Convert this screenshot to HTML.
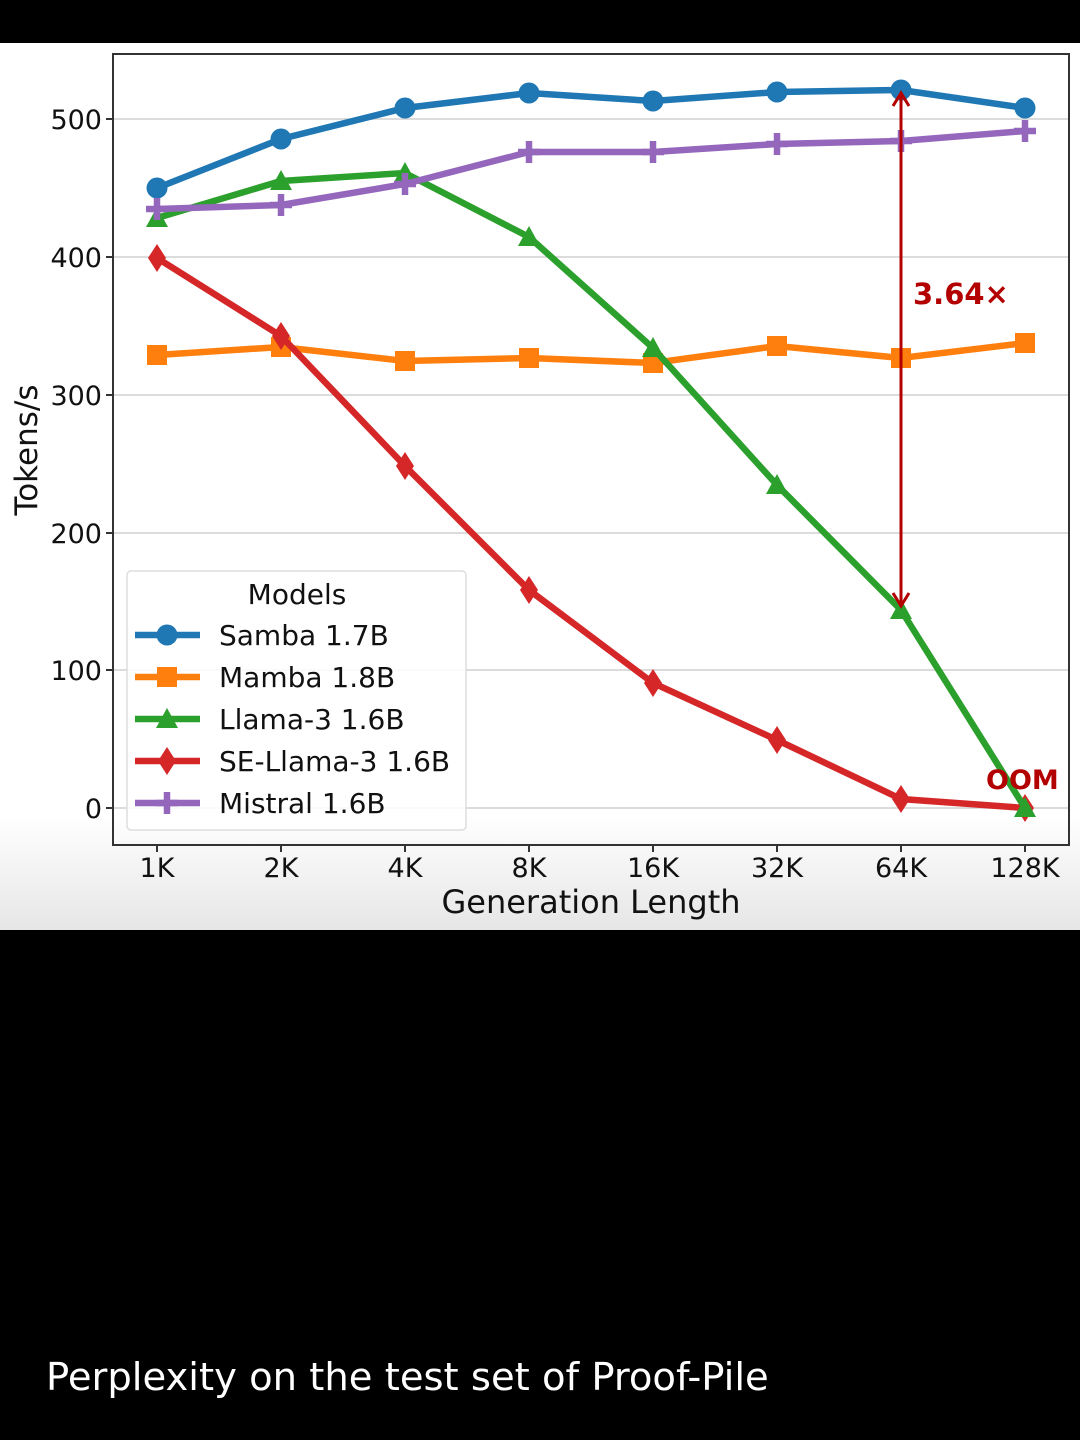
<!DOCTYPE html>
<html><head><style>
html,body{margin:0;padding:0;background:#000;width:1080px;height:1440px;overflow:hidden}
svg{display:block}
text{font-family:"DejaVu Sans","Liberation Sans",sans-serif}
</style></head><body>
<svg width="1080" height="1440" viewBox="0 0 1080 1440" xmlns="http://www.w3.org/2000/svg">
<defs>
<linearGradient id="bg" x1="0" y1="0" x2="0" y2="1">
<stop offset="0" stop-color="#fff"/><stop offset="0.87" stop-color="#fff"/><stop offset="1" stop-color="#e6e6e6"/>
</linearGradient>
<g id="tri"><polygon points="0,-11 11,9 -11,9"/></g>
</defs>
<rect x="0" y="0" width="1080" height="1440" fill="#000"/>
<rect x="0" y="43" width="1080" height="887" fill="url(#bg)"/>
<g stroke="#d0d0d0" stroke-width="1.5">
<line x1="113" y1="119" x2="1069" y2="119"/><line x1="113" y1="257" x2="1069" y2="257"/>
<line x1="113" y1="395" x2="1069" y2="395"/><line x1="113" y1="533" x2="1069" y2="533"/>
<line x1="113" y1="670" x2="1069" y2="670"/><line x1="113" y1="808" x2="1069" y2="808"/>
</g>
<rect x="113" y="54" width="956" height="791" fill="none" stroke="#333" stroke-width="2"/>
<g stroke="#333" stroke-width="2">
<line x1="106" y1="119" x2="113" y2="119"/><line x1="106" y1="257" x2="113" y2="257"/><line x1="106" y1="395" x2="113" y2="395"/><line x1="106" y1="533" x2="113" y2="533"/><line x1="106" y1="670" x2="113" y2="670"/><line x1="106" y1="808" x2="113" y2="808"/>
<line x1="157" y1="845" x2="157" y2="852"/><line x1="281" y1="845" x2="281" y2="852"/><line x1="405" y1="845" x2="405" y2="852"/><line x1="529" y1="845" x2="529" y2="852"/><line x1="653" y1="845" x2="653" y2="852"/><line x1="777" y1="845" x2="777" y2="852"/><line x1="901" y1="845" x2="901" y2="852"/><line x1="1025" y1="845" x2="1025" y2="852"/>
</g>
<g font-size="27" fill="#111" text-anchor="end">
<text x="102" y="129">500</text><text x="102" y="267">400</text><text x="102" y="405">300</text><text x="102" y="543">200</text><text x="102" y="680">100</text><text x="102" y="818">0</text>
</g>
<g font-size="27" fill="#111" text-anchor="middle">
<text x="157" y="877">1K</text><text x="281" y="877">2K</text><text x="405" y="877">4K</text><text x="529" y="877">8K</text><text x="653" y="877">16K</text><text x="777" y="877">32K</text><text x="901" y="877">64K</text><text x="1025" y="877">128K</text>
<text x="591" y="913" font-size="32">Generation Length</text>
</g>
<text transform="translate(37,450) rotate(-90)" font-size="31" fill="#111" text-anchor="middle">Tokens/s</text>

<g fill="#ff7f0e"><polyline points="157,355 281,347 405,361 529,358 653,363 777,346 901,358 1025,343" fill="none" stroke="#ff7f0e" stroke-width="6.5"/>
<rect x="147" y="345" width="20" height="20"/><rect x="271" y="337" width="20" height="20"/><rect x="395" y="351" width="20" height="20"/><rect x="519" y="348" width="20" height="20"/><rect x="643" y="353" width="20" height="20"/><rect x="767" y="336" width="20" height="20"/><rect x="891" y="348" width="20" height="20"/><rect x="1015" y="333" width="20" height="20"/></g>
<g fill="#d62728"><polyline points="157,258 281,336 405,466 529,590 653,683 777,740 901,799 1025,808" fill="none" stroke="#d62728" stroke-width="6.5"/>
<polygon points="157,244 166,258 157,272 148,258"/><polygon points="281,322 290,336 281,350 272,336"/><polygon points="405,452 414,466 405,480 396,466"/><polygon points="529,576 538,590 529,604 520,590"/><polygon points="653,669 662,683 653,697 644,683"/><polygon points="777,726 786,740 777,754 768,740"/><polygon points="901,785 910,799 901,813 892,799"/><polygon points="1025,794 1034,808 1025,822 1016,808"/></g>
<g fill="#2ca02c"><polyline points="157,218 281,181 405,173 529,237 653,348 777,485 901,610 1025,808" fill="none" stroke="#2ca02c" stroke-width="6.5"/>
<use href="#tri" x="157" y="218"/><use href="#tri" x="281" y="181"/><use href="#tri" x="405" y="173"/><use href="#tri" x="529" y="237"/><use href="#tri" x="653" y="348"/><use href="#tri" x="777" y="485"/><use href="#tri" x="901" y="610"/><use href="#tri" x="1025" y="808"/></g>
<g fill="#1f77b4"><polyline points="157,188 281,139 405,108 529,93 653,101 777,92 901,90 1025,108" fill="none" stroke="#1f77b4" stroke-width="6.5"/>
<circle cx="157" cy="188" r="10.5"/><circle cx="281" cy="139" r="10.5"/><circle cx="405" cy="108" r="10.5"/><circle cx="529" cy="93" r="10.5"/><circle cx="653" cy="101" r="10.5"/><circle cx="777" cy="92" r="10.5"/><circle cx="901" cy="90" r="10.5"/><circle cx="1025" cy="108" r="10.5"/></g>
<g stroke="#9467bd" stroke-width="6.5" fill="none"><polyline points="157,209 281,205 405,184 529,152 653,152 777,144 901,141 1025,131"/>
<path d="M146 209h22M157 198v22M270 205h22M281 194v22M394 184h22M405 173v22M518 152h22M529 141v22M642 152h22M653 141v22M766 144h22M777 133v22M890 141h22M901 130v22M1014 131h22M1025 120v22"/></g>
<g stroke="#b30000" stroke-width="3" fill="none">
<line x1="901" y1="93" x2="901" y2="606"/>
<polyline points="893,106 901,93 909,106"/><polyline points="893,593 901,606 909,593"/></g>
<text x="913" y="304" font-size="29" font-weight="bold" fill="#b30000">3.64×</text>
<text x="986" y="789" font-size="27" font-weight="bold" fill="#b30000">OOM</text>
<rect x="127" y="571" width="339" height="259" rx="4" fill="#fff" fill-opacity="0.85" stroke="#ddd" stroke-width="1.5"/>
<text x="297" y="604" font-size="28" fill="#111" text-anchor="middle">Models</text>
<g font-size="28" fill="#111">
<text x="219" y="645">Samba 1.7B</text><text x="219" y="687">Mamba 1.8B</text><text x="219" y="729">Llama-3 1.6B</text><text x="219" y="771">SE-Llama-3 1.6B</text><text x="219" y="813">Mistral 1.6B</text></g>
<g stroke-width="6.5">
<line x1="135" y1="635" x2="200" y2="635" stroke="#1f77b4"/><circle cx="167" cy="635" r="10.5" fill="#1f77b4"/>
<line x1="135" y1="677" x2="200" y2="677" stroke="#ff7f0e"/><rect x="157" y="667" width="20" height="20" fill="#ff7f0e"/>
<line x1="135" y1="719" x2="200" y2="719" stroke="#2ca02c"/><use href="#tri" x="167" y="719" fill="#2ca02c"/>
<line x1="135" y1="761" x2="200" y2="761" stroke="#d62728"/><polygon points="167,747 176,761 167,775 158,761" fill="#d62728"/>
<line x1="135" y1="803" x2="200" y2="803" stroke="#9467bd"/><path d="M156 803h22M167 792v22" stroke="#9467bd"/>
</g>
<text x="46" y="1390" font-size="38.5" fill="#fff">Perplexity on the test set of Proof-Pile</text>
</svg>
</body></html>
